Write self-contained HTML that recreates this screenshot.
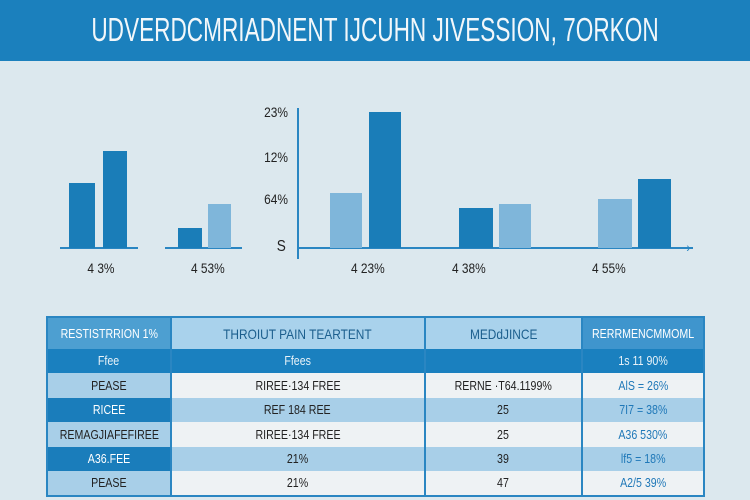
<!DOCTYPE html>
<html><head><style>
body{margin:0;width:750px;height:500px;background:#dce8ee;font-family:"Liberation Sans",sans-serif;position:relative;overflow:hidden}
.hdr{position:absolute;left:0;top:0;width:750px;height:61px;background:#1b80bd}
.title{position:absolute;left:375px;top:11px;white-space:nowrap;color:#f2f7fa;font-size:33px;transform:translateX(-50%) scaleX(0.685);transform-origin:center}
.b{position:absolute}
.d{background:#1a7db8}.l{background:#7fb6da}
.t{position:absolute;font-size:14px;color:#222;transform:scaleX(0.85);white-space:nowrap}
table{position:absolute;left:46px;top:316px;width:659px;border-collapse:collapse;border:2px solid #2a86c2;font-size:12.5px}
td{text-align:center;padding:0;border-right:2px solid #2a86c2;white-space:nowrap}
td span{display:inline-block;transform:scaleX(0.85)}
</style></head><body>
<div class="hdr"></div>
<div class="title">UDVERDCMRIADNENT IJCUHN JIVESSION, 7ORKON</div>

<div class="b" style="left:60px;top:247px;width:78px;height:2px;background:#2a86c2"></div>
<div class="b d" style="left:69px;top:183px;width:26px;height:65px"></div>
<div class="b d" style="left:103px;top:151px;width:24px;height:97px"></div>
<div class="b" style="left:165px;top:247px;width:77px;height:2px;background:#2a86c2"></div>
<div class="b d" style="left:178px;top:228px;width:24px;height:20px"></div>
<div class="b l" style="left:208px;top:204px;width:23px;height:44px"></div>
<div class="t" style="left:85px;top:260px">4 3%</div>
<div class="t" style="left:188px;top:260px">4 53%</div>

<div class="b" style="left:297px;top:108px;width:2px;height:151px;background:#2a86c2"></div>
<div class="b" style="left:299px;top:247px;width:394px;height:2px;background:#2a86c2"></div>
<div class="t" style="left:686px;top:239px;color:#2a86c2">›</div>
<div class="t" style="left:262px;top:104px">23%</div>
<div class="t" style="left:262px;top:149px">12%</div>
<div class="t" style="left:262px;top:191px">64%</div>
<div class="t" style="left:276px;top:238px;font-size:16px">S</div>
<div class="b l" style="left:330px;top:193px;width:32px;height:55px"></div>
<div class="b d" style="left:369px;top:112px;width:32px;height:136px"></div>
<div class="b d" style="left:459px;top:208px;width:34px;height:40px"></div>
<div class="b l" style="left:499px;top:204px;width:32px;height:44px"></div>
<div class="b l" style="left:598px;top:199px;width:34px;height:49px"></div>
<div class="b d" style="left:638px;top:179px;width:33px;height:69px"></div>
<div class="t" style="left:348px;top:260px">4 23%</div>
<div class="t" style="left:449px;top:260px">4 38%</div>
<div class="t" style="left:589px;top:260px">4 55%</div>

<table>
<tr style="height:32px"><td style="width:122px;background:#4d9fd1;color:#fff"><span>RESTISTRRION 1%</span></td><td style="width:255px;background:#a9d2ec;color:#1c5f8e;font-size:14px"><span>THROIUT PAIN TEARTENT</span></td><td style="width:157px;background:#a9d2ec;color:#1c5f8e;font-size:14px"><span>MEDdJINCE</span></td><td style="background:#3f95cd;color:#fff"><span>RERRMENCMMOML</span></td></tr>
<tr style="height:24px;background:#1a80bf;color:#e8f2f8"><td><span>Ffee</span></td><td><span>Ffees</span></td><td></td><td><span>1s 11 90%</span></td></tr>
<tr style="height:25px;color:#222"><td style="background:#a8cfe8"><span>PEASE</span></td><td style="background:#eef2f4"><span>RIREE·134 FREE</span></td><td style="background:#eef2f4"><span>RERNE ·T64.1199%</span></td><td style="background:#eef2f4;color:#1f78b8"><span>AlS = 26%</span></td></tr>
<tr style="height:24px;color:#222"><td style="background:#1a7dbb;color:#fff"><span>RICEE</span></td><td style="background:#a8cfe8"><span>REF 184 REE</span></td><td style="background:#a8cfe8"><span>25</span></td><td style="background:#a8cfe8;color:#1f78b8"><span>7I7 = 38%</span></td></tr>
<tr style="height:25px;color:#222"><td style="background:#a8cfe8"><span>REMAGJIAFEFIREE</span></td><td style="background:#eef2f4"><span>RIREE·134 FREE</span></td><td style="background:#eef2f4"><span>25</span></td><td style="background:#eef2f4;color:#1f78b8"><span>A36 530%</span></td></tr>
<tr style="height:24px;color:#222"><td style="background:#1a7dbb;color:#fff"><span>A36.FEE</span></td><td style="background:#a8cfe8"><span>21%</span></td><td style="background:#a8cfe8"><span>39</span></td><td style="background:#a8cfe8;color:#1f78b8"><span>lf5 = 18%</span></td></tr>
<tr style="height:25px;color:#222"><td style="background:#a8cfe8"><span>PEASE</span></td><td style="background:#eef2f4"><span>21%</span></td><td style="background:#eef2f4"><span>47</span></td><td style="background:#eef2f4;color:#1f78b8"><span>A2/5 39%</span></td></tr>
</table>
</body></html>
